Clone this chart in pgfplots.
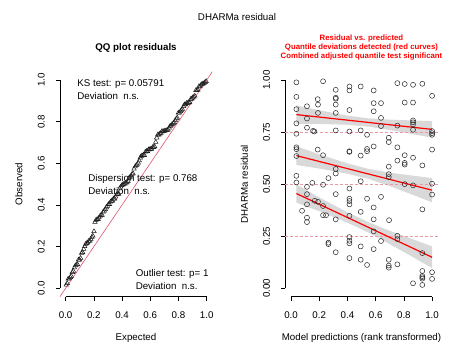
\documentclass[border=0pt]{standalone}
\usepackage{pgfplots}
\pgfplotsset{compat=1.18}
\usepackage{pgfplotstable}
\usepackage{fontspec}
\setmainfont{Liberation Sans}
\definecolor{rpink}{HTML}{DF536B}
\definecolor{bandgrey}{RGB}{217,217,217}
\definecolor{rred}{RGB}{255,0,0}

\pgfplotstableread{
x y
0.004 0.016
0.011 0.024
0.018 0.045
0.026 0.046
0.033 0.053
0.040 0.059
0.047 0.077
0.055 0.083
0.062 0.099
0.069 0.109
0.077 0.112
0.084 0.115
0.091 0.137
0.099 0.137
0.106 0.145
0.113 0.169
0.120 0.173
0.128 0.188
0.135 0.201
0.142 0.212
0.150 0.216
0.157 0.219
0.164 0.227
0.172 0.228
0.179 0.236
0.186 0.246
0.193 0.252
0.201 0.273
0.208 0.318
0.215 0.327
0.223 0.331
0.230 0.331
0.237 0.339
0.245 0.348
0.252 0.351
0.259 0.351
0.266 0.367
0.274 0.372
0.281 0.379
0.288 0.388
0.296 0.395
0.303 0.403
0.310 0.403
0.318 0.415
0.325 0.419
0.332 0.420
0.339 0.430
0.347 0.430
0.354 0.439
0.361 0.450
0.369 0.452
0.376 0.452
0.383 0.479
0.391 0.487
0.398 0.494
0.405 0.497
0.412 0.500
0.420 0.502
0.427 0.506
0.434 0.508
0.442 0.514
0.449 0.529
0.456 0.534
0.464 0.540
0.471 0.548
0.478 0.551
0.485 0.573
0.493 0.584
0.500 0.590
0.507 0.594
0.515 0.602
0.522 0.613
0.529 0.627
0.536 0.635
0.544 0.637
0.551 0.639
0.558 0.639
0.566 0.655
0.573 0.658
0.580 0.658
0.588 0.666
0.595 0.666
0.602 0.668
0.609 0.669
0.617 0.677
0.624 0.677
0.631 0.681
0.639 0.702
0.646 0.723
0.653 0.737
0.661 0.737
0.668 0.742
0.675 0.745
0.682 0.753
0.690 0.753
0.697 0.755
0.704 0.756
0.712 0.758
0.719 0.758
0.726 0.761
0.734 0.771
0.741 0.779
0.748 0.781
0.755 0.787
0.763 0.792
0.770 0.797
0.777 0.806
0.785 0.815
0.792 0.818
0.799 0.842
0.807 0.842
0.814 0.850
0.821 0.856
0.828 0.860
0.836 0.874
0.843 0.882
0.850 0.882
0.858 0.889
0.865 0.889
0.872 0.892
0.880 0.892
0.887 0.908
0.894 0.910
0.901 0.915
0.909 0.919
0.916 0.924
0.923 0.950
0.931 0.950
0.938 0.953
0.945 0.969
0.953 0.969
0.960 0.977
0.967 0.981
0.974 0.982
0.982 0.985
0.989 0.989
0.996 0.994
}\qqdata

\pgfplotstableread{
x y
0.038 0.989
0.227 0.994
0.317 0.953
0.414 0.969
0.414 0.950
0.494 0.969
0.586 0.950
0.754 0.985
0.806 0.981
0.865 0.977
0.931 0.982
1.000 0.924
0.038 0.919
0.189 0.908
0.317 0.915
0.317 0.910
0.191 0.882
0.113 0.874
0.317 0.882
0.586 0.889
0.638 0.889
0.806 0.892
0.865 0.892
0.038 0.860
0.414 0.856
0.191 0.842
0.317 0.842
0.586 0.850
0.113 0.815
0.638 0.818
0.865 0.806
0.865 0.797
0.865 0.787
0.038 0.792
0.113 0.771
0.156 0.756
0.165 0.753
0.317 0.758
0.414 0.753
0.494 0.758
0.539 0.737
0.638 0.779
0.754 0.781
0.865 0.761
1.000 0.755
1.000 0.745
1.000 0.737
0.038 0.742
0.693 0.723
0.693 0.702
0.038 0.677
0.038 0.668
0.189 0.666
0.227 0.639
0.414 0.658
0.414 0.655
0.494 0.637
0.539 0.658
0.539 0.669
0.586 0.681
0.754 0.677
0.806 0.639
0.865 0.627
0.754 0.613
0.806 0.602
0.806 0.594
0.931 0.590
1.000 0.666
0.038 0.635
0.693 0.584
0.317 0.573
0.038 0.540
0.038 0.508
0.151 0.506
0.227 0.497
0.265 0.529
0.317 0.551
0.113 0.487
0.113 0.452
0.078 0.372
0.113 0.403
0.113 0.339
0.113 0.318
0.168 0.420
0.191 0.415
0.227 0.395
0.227 0.351
0.248 0.351
0.317 0.452
0.317 0.331
0.414 0.479
0.414 0.430
0.414 0.419
0.414 0.403
0.414 0.348
0.494 0.514
0.494 0.367
0.539 0.430
0.586 0.388
0.586 0.331
0.638 0.439
0.693 0.548
0.693 0.534
0.695 0.327
0.806 0.500
0.865 0.494
1.000 0.502
1.000 0.450
0.931 0.379
0.586 0.273
0.414 0.246
0.414 0.228
0.414 0.216
0.265 0.219
0.265 0.212
0.317 0.173
0.494 0.201
0.586 0.188
0.638 0.227
0.754 0.252
0.754 0.236
0.931 0.169
0.414 0.145
0.494 0.137
0.539 0.112
0.693 0.137
0.693 0.109
0.693 0.099
0.754 0.115
0.931 0.083
0.931 0.059
0.931 0.053
0.931 0.046
1.000 0.077
1.000 0.045
0.865 0.024
0.931 0.016
}\resdata

\pgfkeys{/pgf/number format/assume math mode=true}
\pgfplotsset{
  rbase/.style={
    scale only axis, width=152.3bp, height=224.9bp, anchor=south west,
    xmin=-0.04, xmax=1.04, ymin=-0.04, ymax=1.04,
    axis x line*=bottom, axis y line*=left,
    axis line style={draw=none},
    clip=false,
    tick align=outside, major tick length=4bp,
    tick style={black, line width=0.5bp},
    every tick label/.append style={font=\fontsize{9.75bp}{11.7bp}\selectfont, inner sep=0pt},
    xtick={0,0.2,0.4,0.6,0.8,1},
    xticklabel style={anchor=north, /pgf/number format/fixed, /pgf/number format/fixed zerofill, /pgf/number format/precision=1},
    xticklabel shift=10.9bp,
    yticklabel style={rotate=90, anchor=south, /pgf/number format/fixed, /pgf/number format/fixed zerofill},
    yticklabel shift=11.2bp,
  }
}

\begin{document}
\fontsize{9.75bp}{11.7bp}\selectfont
\begin{tikzpicture}
\useasboundingbox (0bp,0bp) rectangle (474bp,357bp);

% ---------- left: QQ plot ----------
\begin{axis}[rbase, at={(60bp,60.4bp)},
  ytick={0,0.2,0.4,0.6,0.8,1},
  yticklabel style={/pgf/number format/precision=1}]
\draw[line width=0.5bp] (axis cs:0,-0.04) -- (axis cs:1,-0.04);
\draw[line width=0.5bp] (axis cs:-0.04,0) -- (axis cs:-0.04,1);
\addplot[only marks, mark=triangle, mark size=2.6bp, mark options={black!90, line width=0.5bp}] table[x=x,y=y] {\qqdata};
\addplot[rpink, line width=0.6bp] coordinates {(-0.04,-0.04) (1.04,1.04)};
\node[anchor=west, inner sep=0pt] at (axis cs:0.082,0.981) {KS test: p= 0.05791};
\node[anchor=west, inner sep=0pt] at (axis cs:0.082,0.923) {Deviation\ \ n.s.};
\node[anchor=west, inner sep=0pt] at (axis cs:0.160,0.526) {Dispersion test: p= 0.768};
\node[anchor=west, inner sep=0pt] at (axis cs:0.160,0.469) {Deviation\ \ n.s.};
\node[anchor=west, inner sep=0pt] at (axis cs:0.496,0.067) {Outlier test: p= 1};
\node[anchor=west, inner sep=0pt] at (axis cs:0.496,0.0125) {Deviation\ \ n.s.};
\end{axis}

% ---------- right: residual vs predicted ----------
\begin{axis}[rbase, at={(285.4bp,60.4bp)},
  ytick={0,0.25,0.5,0.75,1},
  yticklabel style={/pgf/number format/precision=2}]
\draw[line width=0.5bp] (axis cs:0,-0.04) -- (axis cs:1,-0.04);
\draw[line width=0.5bp] (axis cs:-0.04,0) -- (axis cs:-0.04,1);
% confidence bands
\addplot[fill=bandgrey, draw=none] coordinates {
 (0.038,0.878) (0.2,0.855) (0.4,0.829) (0.55,0.816) (0.7,0.810) (0.85,0.806) (1.0,0.803)
 (1.0,0.723) (0.85,0.742) (0.7,0.760) (0.55,0.776) (0.4,0.785) (0.2,0.789) (0.038,0.790)} -- cycle;
\addplot[fill=bandgrey, draw=none] coordinates {
 (0.038,0.682) (0.2,0.643) (0.4,0.600) (0.55,0.573) (0.7,0.555) (0.85,0.542) (1.0,0.529)
 (1.0,0.413) (0.85,0.452) (0.7,0.491) (0.55,0.525) (0.4,0.550) (0.2,0.575) (0.038,0.592)} -- cycle;
\addplot[fill=bandgrey, draw=none] coordinates {
 (0.038,0.499) (0.2,0.436) (0.4,0.365) (0.55,0.317) (0.7,0.276) (0.85,0.239) (1.0,0.201)
 (1.0,0.097) (0.85,0.155) (0.7,0.212) (0.55,0.267) (0.4,0.315) (0.2,0.370) (0.038,0.411)} -- cycle;
% dashed reference lines
\addplot[rpink!60, line width=0.5bp, dash pattern=on 2.5bp off 2.5bp] coordinates {(-0.04,0.25) (1.04,0.25)};
\addplot[rpink!60, line width=0.5bp, dash pattern=on 2.5bp off 2.5bp] coordinates {(-0.04,0.5) (1.04,0.5)};
\addplot[rpink!60, line width=0.5bp, dash pattern=on 2.5bp off 2.5bp] coordinates {(-0.04,0.75) (1.04,0.75)};
% points
\addplot[only marks, mark=o, mark size=2.5bp, mark options={black!85, line width=0.5bp}] table[x=x,y=y] {\resdata};
% quantile regression lines
\addplot[rred, line width=1.2bp] coordinates {(0.038,0.834) (1.0,0.763)};
\addplot[rred, line width=1.2bp] coordinates {(0.038,0.637) (1.0,0.471)};
\addplot[rred, line width=1.2bp] coordinates {(0.038,0.455) (1.0,0.149)};
\end{axis}

% ---------- titles and labels ----------
\node at (237bp,339.7bp) {DHARMa residual};
\node[font=\fontsize{9.75bp}{11.7bp}\selectfont\bfseries] at (136bp,308.7bp) {QQ plot residuals};
\node[text=rred, align=center, font=\fontsize{7.8bp}{9.2bp}\selectfont\bfseries] at (361.5bp,309.3bp)
  {Residual vs. predicted\\Quantile deviations detected (red curves)\\Combined adjusted quantile test significant};
\node at (136bp,18.7bp) {Expected};
\node[rotate=90] at (19bp,172.85bp) {Observed};
\node at (361.5bp,18.7bp) {Model predictions (rank transformed)};
\node[rotate=90] at (244.5bp,172.85bp) {DHARMa residual};
\end{tikzpicture}
\end{document}
